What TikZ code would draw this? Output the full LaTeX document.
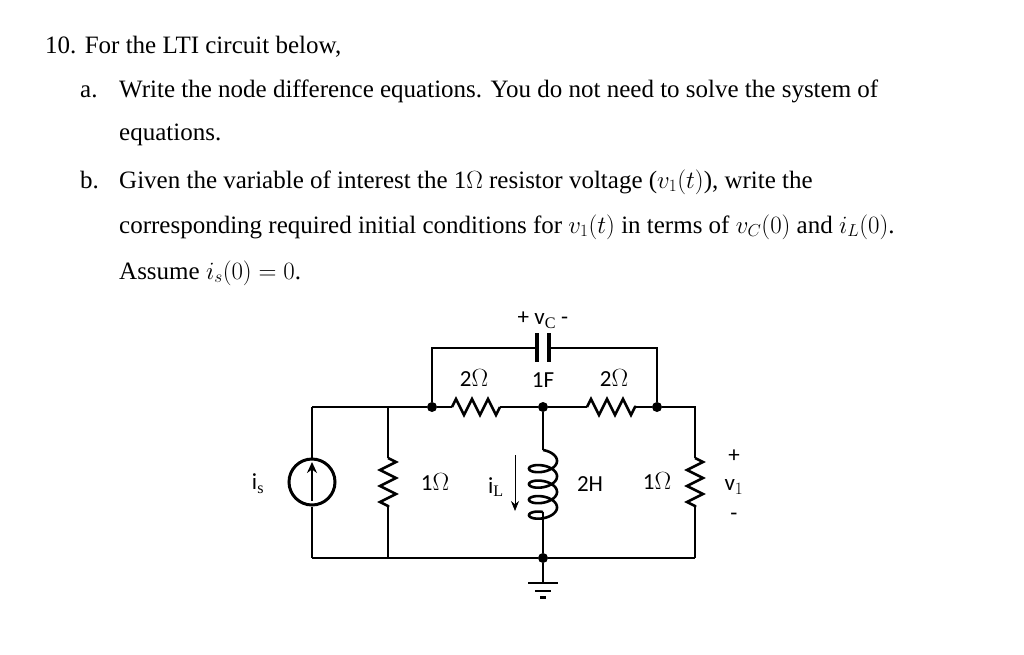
\documentclass[tikz,border=0pt]{standalone}
\usepackage{fontspec}
\setmainfont{Liberation Serif}
\newfontfamily\lab{Carlito}
\usetikzlibrary{decorations.pathmorphing,arrows.meta}
\begin{document}
\begin{tikzpicture}[x=1pt,y=-1pt,
  w/.style={line width=2.6pt},
  res/.style={w,decoration={zigzag,segment length=16pt,amplitude=8pt},decorate},
  dot/.style={circle,fill,inner sep=0,minimum size=10pt},
  tx/.style={anchor=base west,inner sep=0,font=\fontsize{25}{28}\selectfont},
  lb/.style={inner sep=0,font=\lab\fontsize{23}{26}\selectfont}]
\useasboundingbox (0,0) rectangle (1024,654);
% text
\node[tx] (t0) at (45,53) {10. For the LTI circuit below,};
\node[tx] (ta) at (80,97) {a.};
\node[tx] (ta1) at (119,97) {Write the node difference equations. You do not need to solve the system of};
\node[tx] (ta2) at (119,140) {equations.};
\node[tx] (tb) at (80,188) {b.};
\node[tx] (tb1) at (119,188) {Given the variable of interest the 1$\Omega$ resistor voltage ($v_1(t)$), write the};
\node[tx] (tb2) at (119,233) {corresponding required initial conditions for $v_1(t)$ in terms of $v_C(0)$ and $i_L(0)$.};
\node[tx] (tb3) at (119,279) {Assume $i_s(0) = 0$.};
% nodes
\coordinate (TL) at (312,407); \coordinate (BL) at (312,558);
\coordinate (TR1) at (388,407); \coordinate (BR1) at (388,558);
\node[dot] (n1) at (432,407) {};
\node[dot] (n2) at (543,407) {};
\node[dot] (n3) at (657,407) {};
\node[dot] (g) at (543,558) {};
\coordinate (TR) at (695,407); \coordinate (BR) at (695,558);
\coordinate (U1) at (432,348); \coordinate (U2) at (657,348);
\coordinate (C1) at (537,348); \coordinate (C2) at (549,348);
% current source
\node[circle,draw,line width=3pt,minimum size=46pt,inner sep=0] (src) at (312,482) {};
\draw[w] (TL) -- (src.north) (src.south) -- (BL);
\draw[w,-{Stealth[length=11pt,width=10pt]}] (312,501) -- (312,462);
% left 1ohm
\draw[w] (TR1) -- (388,458);
\draw[res] (388,458) -- (388,507);
\draw[w] (388,507) -- (BR1);
% top wires
\draw[w] (TL) -- (n1);
\draw[w] (n1) -- (452,407); \draw[res] (452,407) -- (500,407); \draw[w] (500,407) -- (n2);
\draw[w] (n2) -- (587,407); \draw[res] (587,407) -- (636,407); \draw[w] (636,407) -- (n3);
\draw[w] (n3) -- (TR) -- (695,458);
\draw[res] (695,458) -- (695,507);
\draw[w] (695,507) -- (BR);
% capacitor loop
\draw[w] (n1) -- (U1) -- (C1);
\draw[w] (C2) -- (U2) -- (n3);
\draw[line width=3.5pt] (537,333) -- (537,362) (549,333) -- (549,362);
% inductor
\draw[w] (n2) -- (543,450);
\draw[w] plot[domain=0:1440,samples=240,smooth] ({543+14*sin(\x)},{450+\x/360*15.5+7-7*cos(\x)});
\draw[w] (543,512) -- (g);
% bottom
\draw[w] (BL) -- (g) -- (BR);
% ground
\draw[w] (g) -- (543,583);
\draw[w] (528,583) -- (558,583);
\draw[w] (535,591) -- (551,591);
\draw[line width=3pt] (540,597) -- (546,597);
% iL arrow
\draw[line width=0.8pt,-{Stealth[length=10pt,width=8pt]}] (515,455) -- (515,511);
% labels
\node[lb] (lvc) at (543,320) {+ v$_{\mathrm C}$ -};
\node[lb] (l2a) at (474,378) {2$\Omega$};
\node[lb] (l1f) at (543,380) {1F};
\node[lb] (l2b) at (614,378) {2$\Omega$};
\node[lb] (l1a) at (435,482) {1$\Omega$};
\node[lb] (liL) at (496,487) {i$_{\mathrm L}$};
\node[lb] (l2h) at (590,484) {2H};
\node[lb] (l1b) at (657,481) {1$\Omega$};
\node[lb] (lp) at (734,456) {+};
\node[lb] (lv1) at (734,487) {v$_1$};
\node[lb] (lm) at (734,517) {-};
\node[lb] (lis) at (258,484) {i$_{\mathrm s}$};
\end{tikzpicture}
\end{document}
